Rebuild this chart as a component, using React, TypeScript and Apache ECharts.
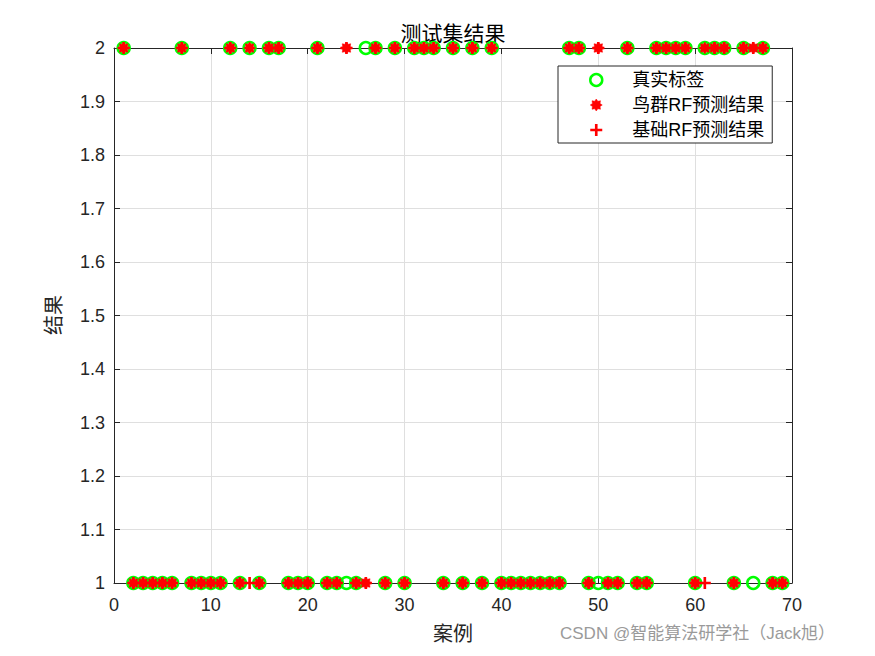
import React, { useEffect, useRef } from 'react';
import * as echarts from 'echarts';

// Test cases 1..69
const trueLabel = [2,1,1,1,1,1,2,1,1,1,1,2,1,2,1,2,2,1,1,1,2,1,1,1,1,2,2,1,2,1,2,2,2,1,2,1,2,1,2,1,1,1,1,1,1,1,2,2,1,1,1,1,2,1,1,2,2,2,2,1,2,2,2,1,2,1,2,1,1];
const birdRF =    [2,1,1,1,1,1,2,1,1,1,1,2,1,2,1,2,2,1,1,1,2,1,1,2,1,1,2,1,2,1,2,2,2,1,2,1,2,1,2,1,1,1,1,1,1,1,2,2,1,2,1,1,2,1,1,2,2,2,2,1,2,2,2,1,2,2,2,1,1];
const basicRF =   [2,1,1,1,1,1,2,1,1,1,1,2,1,1,1,2,2,1,1,1,2,1,1,2,1,1,2,1,2,1,2,2,2,1,2,1,2,1,2,1,1,1,1,1,1,1,2,2,1,2,1,1,2,1,1,2,2,2,2,1,1,2,2,1,2,2,2,1,1];

const seriesNames = ['真实标签', '鸟群RF预测结果', '基础RF预测结果'];
const titleText = '测试集结果';
const xName = '案例';
const yName = '结果';
const watermark = 'CSDN @智能算法研学社（Jack旭）';

const FONT = "'Liberation Sans', Arial, 'Noto Sans CJK SC', sans-serif";
const CJK = "'Noto Sans CJK SC', 'Liberation Sans', sans-serif";
const AXIS = '#262626';

function starSymbol(): string {
  const pts: string[] = [];
  for (let k = 0; k < 16; k++) {
    const a = -Math.PI / 2 + (k * Math.PI) / 8;
    const r = k % 2 === 0 ? 1 : 0.68;
    pts.push(`${(r * Math.cos(a)).toFixed(3)},${(r * Math.sin(a)).toFixed(3)}`);
  }
  return 'path://M' + pts.join(' L') + ' Z';
}
const plusSymbol =
  'path://M-0.22,-1 L0.22,-1 L0.22,-0.22 L1,-0.22 L1,0.22 L0.22,0.22 L0.22,1 L-0.22,1 L-0.22,0.22 L-1,0.22 L-1,-0.22 L-0.22,-0.22 Z';

const toPoints = (arr: number[]) => arr.map((v, i) => [i + 1, v]);

export default function App() {
  const ref = useRef<HTMLDivElement>(null);
  useEffect(() => {
    if (!ref.current) return;
    const chart = echarts.init(ref.current, undefined, { renderer: 'svg' });
    const star = starSymbol();
    const circleStyle = { color: 'rgba(0,0,0,0)', borderColor: '#00ff00', borderWidth: 2.5, opacity: 1 };
    const starStyle = { color: '#ff0000', borderColor: '#ff0000', borderWidth: 0.5, opacity: 1 };
    const plusStyle = { color: '#ff0000', opacity: 1 };
    const axisCommon = {
      axisLine: { show: true, onZero: false, lineStyle: { color: AXIS, width: 1 } },
      axisTick: { show: true, inside: true, length: 6, lineStyle: { color: AXIS } },
    };
    chart.setOption({
      animation: false,
      backgroundColor: '#ffffff',
      grid: { left: 114, right: 83, top: 48, bottom: 73 },
      xAxis: [
        {
          type: 'value', min: 0, max: 70, interval: 10, position: 'bottom',
          ...axisCommon,
          axisLabel: { fontSize: 18, color: AXIS, margin: 13, fontFamily: FONT },
          splitLine: { show: true, lineStyle: { color: '#dfdfdf', width: 1 } },
        },
        {
          type: 'value', min: 0, max: 70, interval: 10, position: 'top',
          ...axisCommon,
          axisLabel: { show: false },
          splitLine: { show: false },
        },
      ],
      yAxis: [
        {
          type: 'value', min: 1, max: 2, interval: 0.1, position: 'left',
          ...axisCommon,
          axisLabel: { fontSize: 18, color: AXIS, margin: 9, fontFamily: FONT },
          splitLine: { show: true, lineStyle: { color: '#dfdfdf', width: 1 } },
        },
        {
          type: 'value', min: 1, max: 2, interval: 0.1, position: 'right',
          ...axisCommon,
          axisLabel: { show: false },
          splitLine: { show: false },
        },
      ],
      legend: {
        orient: 'vertical',
        left: 558,
        top: 66,
        selectedMode: false,
        padding: [4, 8, 3, 31],
        itemWidth: 12,
        itemHeight: 12,
        itemGap: 5,
        borderColor: AXIS,
        borderWidth: 1,
        backgroundColor: '#ffffff',
        textStyle: { fontSize: 18, lineHeight: 20, color: '#000', fontFamily: FONT, padding: [0, 0, 0, 25] },
        data: [
          { name: seriesNames[0], icon: 'circle', itemStyle: circleStyle },
          { name: seriesNames[1], icon: star, itemStyle: starStyle },
          { name: seriesNames[2], icon: plusSymbol, itemStyle: plusStyle },
        ],
      },
      graphic: [
        { type: 'text', x: 453, y: 32, style: { text: titleText, fontSize: 21, fill: '#000', fontFamily: CJK, textAlign: 'center', textVerticalAlign: 'middle' } },
        { type: 'text', x: 453, y: 632, style: { text: xName, fontSize: 20, fill: AXIS, fontFamily: CJK, textAlign: 'center', textVerticalAlign: 'middle' } },
        { type: 'text', x: 52, y: 315, rotation: Math.PI / 2, style: { text: yName, fontSize: 20, fill: AXIS, fontFamily: CJK, textAlign: 'center', textVerticalAlign: 'middle' } },
        { type: 'text', x: 560, y: 633, style: { text: watermark, fontSize: 17, fill: '#9a9a9a', fontFamily: FONT, textAlign: 'left', textVerticalAlign: 'middle' } },
      ],
      series: [
        {
          name: seriesNames[0], type: 'scatter', data: toPoints(trueLabel), z: 2,
          symbol: 'circle', symbolSize: 12, itemStyle: circleStyle, silent: true,
        },
        {
          name: seriesNames[1], type: 'scatter', data: toPoints(birdRF), z: 4,
          symbol: star, symbolSize: 12, itemStyle: starStyle, silent: true,
        },
        {
          name: seriesNames[2], type: 'scatter', data: toPoints(basicRF), z: 3,
          symbol: plusSymbol, symbolSize: 12, itemStyle: plusStyle, silent: true,
        },
      ],
    });
    return () => chart.dispose();
  }, []);
  return <div ref={ref} style={{ position: 'fixed', left: 0, top: 0, width: 875, height: 656 }} />;
}
